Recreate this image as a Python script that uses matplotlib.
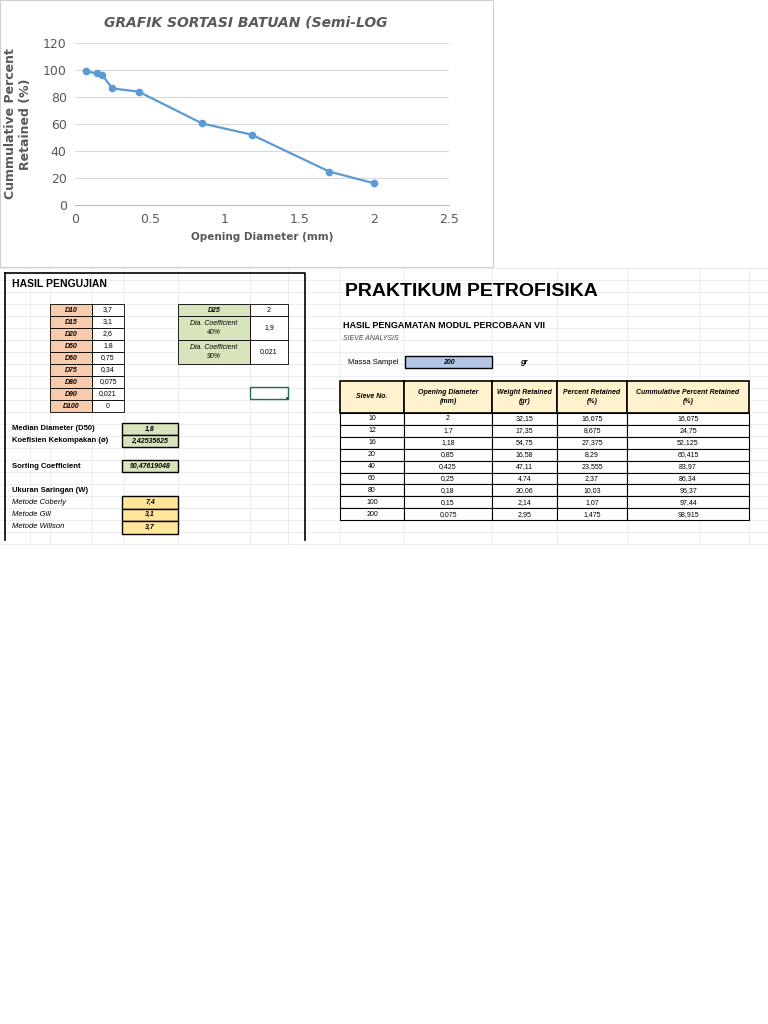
import matplotlib
matplotlib.use("Agg")
from matplotlib import pyplot as plt
from matplotlib.patches import Rectangle

plt.rcParams['font.family'] = ['Liberation Sans', 'DejaVu Sans']

# data sieve analysis
sieve_no = ['10', '12', '16', '20', '40', '60', '80', '100', '200']
opening = [2, 1.7, 1.18, 0.85, 0.425, 0.25, 0.18, 0.15, 0.075]
weight = ['32,15', '17,35', '54,75', '16,58', '47,11', '4,74', '20,06', '2,14', '2,95']
percent = ['16,075', '8,675', '27,375', '8,29', '23,555', '2,37', '10,03', '1,07', '1,475']
cumulative = [16.075, 24.75, 52.125, 60.415, 83.97, 86.34, 96.37, 97.44, 98.915]
opening_txt = ['2', '1,7', '1,18', '0,85', '0,425', '0,25', '0,18', '0,15', '0,075']
cum_txt = ['16,075', '24,75', '52,125', '60,415', '83,97', '86,34', '96,37', '97,44', '98,915']
headers = ['Sieve No.', 'Opening Diameter\n(mm)', 'Weight Retained\n(gr)', 'Percent Retained\n(%)',
           'Cummulative Percent Retained\n(%)']

d_labels = ['D10', 'D15', 'D20', 'D50', 'D60', 'D75', 'D80', 'D90', 'D100']
d_values = ['3,7', '3,1', '2,6', '1,8', '0,75', '0,34', '0,075', '0,021', '0']
coef_labels = ['D25', 'Dia. Coefficient\n40%', 'Dia. Coefficient\n90%']
coef_values = ['2', '1,9', '0,021']
w_labels = ['Metode Coberly', 'Metode Gill', 'Metode Willson']
w_values = ['7,4', '3,1', '3,7']

fig = plt.figure(figsize=(7.68, 10.24), dpi=100)

# background sheet layer in pixel coords
bg = fig.add_axes([0, 0, 1, 1])
bg.set_xlim(0, 768)
bg.set_ylim(1024, 0)
bg.axis('off')

# faint spreadsheet grid
for yy in range(268, 545, 12):
    bg.plot([0, 768], [yy, yy], color='#e8e8e8', lw=0.5, zorder=0)
for xx in [30, 50, 92, 124, 178, 250, 288, 340, 404, 492, 557, 627, 700, 749]:
    bg.plot([xx, xx], [268, 545], color='#e8e8e8', lw=0.5, zorder=0)
# chart border
bg.add_patch(Rectangle((0, 0), 493, 267, fill=True, fc='white', ec='#d0d0d0', lw=0.8, zorder=1))
# left panel border
bg.plot([5, 305, 305], [273, 273, 540], color='black', lw=1.2)
bg.plot([5, 5], [273, 540], color='black', lw=1.2)


def cell(x0, y0, x1, y1, txt, fc='white', bold=False, italic=False, size=5, lw=0.6, ha='center'):
    bg.add_patch(Rectangle((x0, y0), x1 - x0, y1 - y0, fc=fc, ec='black', lw=lw, zorder=2))
    tx = (x0 + x1) / 2 if ha == 'center' else x0 + 2
    bg.text(tx, (y0 + y1) / 2, txt, ha=ha, va='center', fontsize=size, zorder=3,
            fontweight='bold' if bold else 'normal', fontstyle='italic' if italic else 'normal',
            linespacing=1.3)


bg.text(12, 284, 'HASIL PENGUJIAN', fontsize=7.5, fontweight='bold', va='center')
rh = 12
for i, (lab, val) in enumerate(zip(d_labels, d_values)):
    y0 = 304 + i * rh
    cell(50, y0, 92, y0 + rh, lab, fc='#f8cbad', bold=True, italic=True)
    cell(92, y0, 124, y0 + rh, val)
coef_rows = [(304, 316), (316, 340), (340, 364)]
for (y0, y1), lab, val in zip(coef_rows, coef_labels, coef_values):
    cell(178, y0, 250, y1, lab, fc='#d8e4bc', italic=True, bold=(lab == 'D25'))
    cell(250, y0, 288, y1, val)
bg.add_patch(Rectangle((250, 387), 38, 12, fill=False, ec='#217346', lw=1.0, zorder=3))
bg.add_patch(Rectangle((286, 397), 3, 3, fc='#217346', ec='none', zorder=3))

bg.text(12, 429, 'Median Diameter (D50)', fontsize=5.5, fontweight='bold', va='center')
cell(122, 423, 178, 435, '1,8', fc='#d8e4bc', bold=True, italic=True, lw=1)
bg.text(12, 441, 'Koefisien Kekompakan (ø)', fontsize=5.5, fontweight='bold', va='center')
cell(122, 435, 178, 447, '2,42535625', fc='#d8e4bc', bold=True, italic=True, lw=1)
bg.text(12, 466, 'Sorting Coefficient', fontsize=5.5, fontweight='bold', va='center')
cell(122, 460, 178, 472, '90,47619048', fc='#d8e4bc', bold=True, italic=True, lw=1)
bg.text(12, 490, 'Ukuran Saringan (W)', fontsize=5.5, fontweight='bold', va='center')
for i, (lab, val) in enumerate(zip(w_labels, w_values)):
    y0 = 496 + i * 12.5
    bg.text(12, y0 + 6, lab, fontsize=5.5, fontstyle='italic', va='center')
    cell(122, y0, 178, y0 + 12.5, val, fc='#ffe699', bold=True, italic=True, lw=1)

# right panel
bg.text(345, 292, 'PRAKTIKUM PETROFISIKA', fontsize=14, fontweight='bold', va='center')
bg.text(343, 325, 'HASIL PENGAMATAN MODUL PERCOBAAN VII', fontsize=6.5, fontweight='bold', va='center')
bg.text(343, 339, 'SIEVE ANALYSIS', fontsize=5, fontstyle='italic', va='center', color='#444444')
bg.text(348, 362, 'Massa Sampel', fontsize=5.5, va='center')
cell(405, 356, 492, 368, '200', fc='#b4c6e7', bold=True, italic=True, lw=1)
bg.text(520, 363, 'gr', fontsize=5.5, fontweight='bold', fontstyle='italic', va='center')

cols = [340, 404, 492, 557, 627, 749]
for j, h in enumerate(headers):
    cell(cols[j], 381, cols[j + 1], 413, h, fc='#fff2cc', bold=True, italic=True, lw=1.2)
rows_txt = list(zip(sieve_no, opening_txt, weight, percent, cum_txt))
rh2 = 11.9
for i, r in enumerate(rows_txt):
    y0 = 413 + i * rh2
    for j, v in enumerate(r):
        cell(cols[j], y0, cols[j + 1], y0 + rh2, v, lw=0.8)

# chart
ax = fig.add_axes([75 / 768, 1 - 205 / 1024, 374 / 768, 162 / 1024])
ax.plot(opening, cumulative, color='#5b9bd5', lw=1.6, marker='o', markersize=4.5)
ax.set_xlim(0, 2.5)
ax.set_ylim(0, 120)
ax.set_yticks(range(0, 121, 20))
ax.set_xticks([0, 0.5, 1, 1.5, 2, 2.5])
ax.set_xticklabels(['0', '0.5', '1', '1.5', '2', '2.5'])
ax.grid(axis='y', color='#d9d9d9', lw=0.8)
ax.set_axisbelow(True)
for s in ['top', 'right', 'left']:
    ax.spines[s].set_visible(False)
ax.spines['bottom'].set_color('#bfbfbf')
ax.tick_params(length=0, labelsize=9, colors='#595959', pad=6)
ax.set_xlabel('Opening Diameter (mm)', fontsize=7.5, fontweight='bold', color='#595959', family='DejaVu Sans')
ax.set_ylabel('Cummulative Percent\nRetained (%)', fontsize=9, fontweight='bold', color='#595959',
              family='DejaVu Sans', labelpad=8)
for lab in ax.get_xticklabels() + ax.get_yticklabels():
    lab.set_family('DejaVu Sans')
bg.text(246, 22, 'GRAFIK SORTASI BATUAN (Semi-LOG', fontsize=10, fontweight='bold', fontstyle='italic',
        color='#595959', ha='center', va='center', family='DejaVu Sans', zorder=4)

plt.savefig('out.png', dpi=100)
